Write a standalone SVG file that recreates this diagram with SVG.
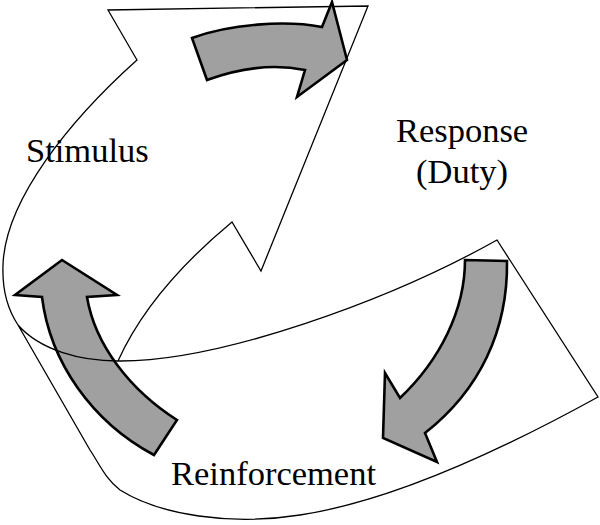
<svg xmlns="http://www.w3.org/2000/svg" width="600" height="525" viewBox="0 0 600 525">
<style>
.thin{fill:none;stroke:#000;stroke-width:1.3;stroke-linejoin:miter}
.garrow{fill:#a0a0a0;stroke:#000;stroke-width:2.6;stroke-linejoin:miter}
.lbl{font-family:"Liberation Serif","Times New Roman",serif;font-size:34.5px;fill:#000}
</style>
<rect width="600" height="525" fill="#fff"/>
<g id="arrow-left">
<path class="garrow" d="M62,260 L117,295 L87,297 C 95,345 130,390 177,420 L154,455 C 92,422 50,362 42,297 L15,295 Z"/>
</g>
<g id="ribbon">
<path class="thin" d="M118,361 Q 150,290 232,222 L261,271 L368,6 L108,10 L137,60 C 70,120 5,200 3,265 C 2,290 8,310 18,325 C 40,350 80,361 118,361 C 220,362 390,300 497,240 L598,397 C 520,440 400,500 300,515 C 230,526 160,515 120,490 C 105,478 100,465 90,450 L18,325"/>
</g>
<g id="arrow-top">
<path class="garrow" d="M192,38 C 230,24 285,20 322,27 L332,2 L347,60 L297,97 L305,70 C 275,64 240,68 207,80 Z"/>
</g>
<g id="arrow-right">
<path class="garrow" d="M465,260 L507,261 C 508,330 480,390 425,433 L437,462 L383,438 L385,373 L400,398 C 440,360 465,310 465,260 Z"/>
</g>
<g id="stimulus"><text class="lbl" x="26" y="162">Stimulus</text></g>
<g id="response"><text class="lbl" x="462" y="142" text-anchor="middle">Response</text><text class="lbl" x="462" y="183" text-anchor="middle">(Duty)</text></g>
<g id="reinforcement"><text class="lbl" x="171" y="485">Reinforcement</text></g>
</svg>
